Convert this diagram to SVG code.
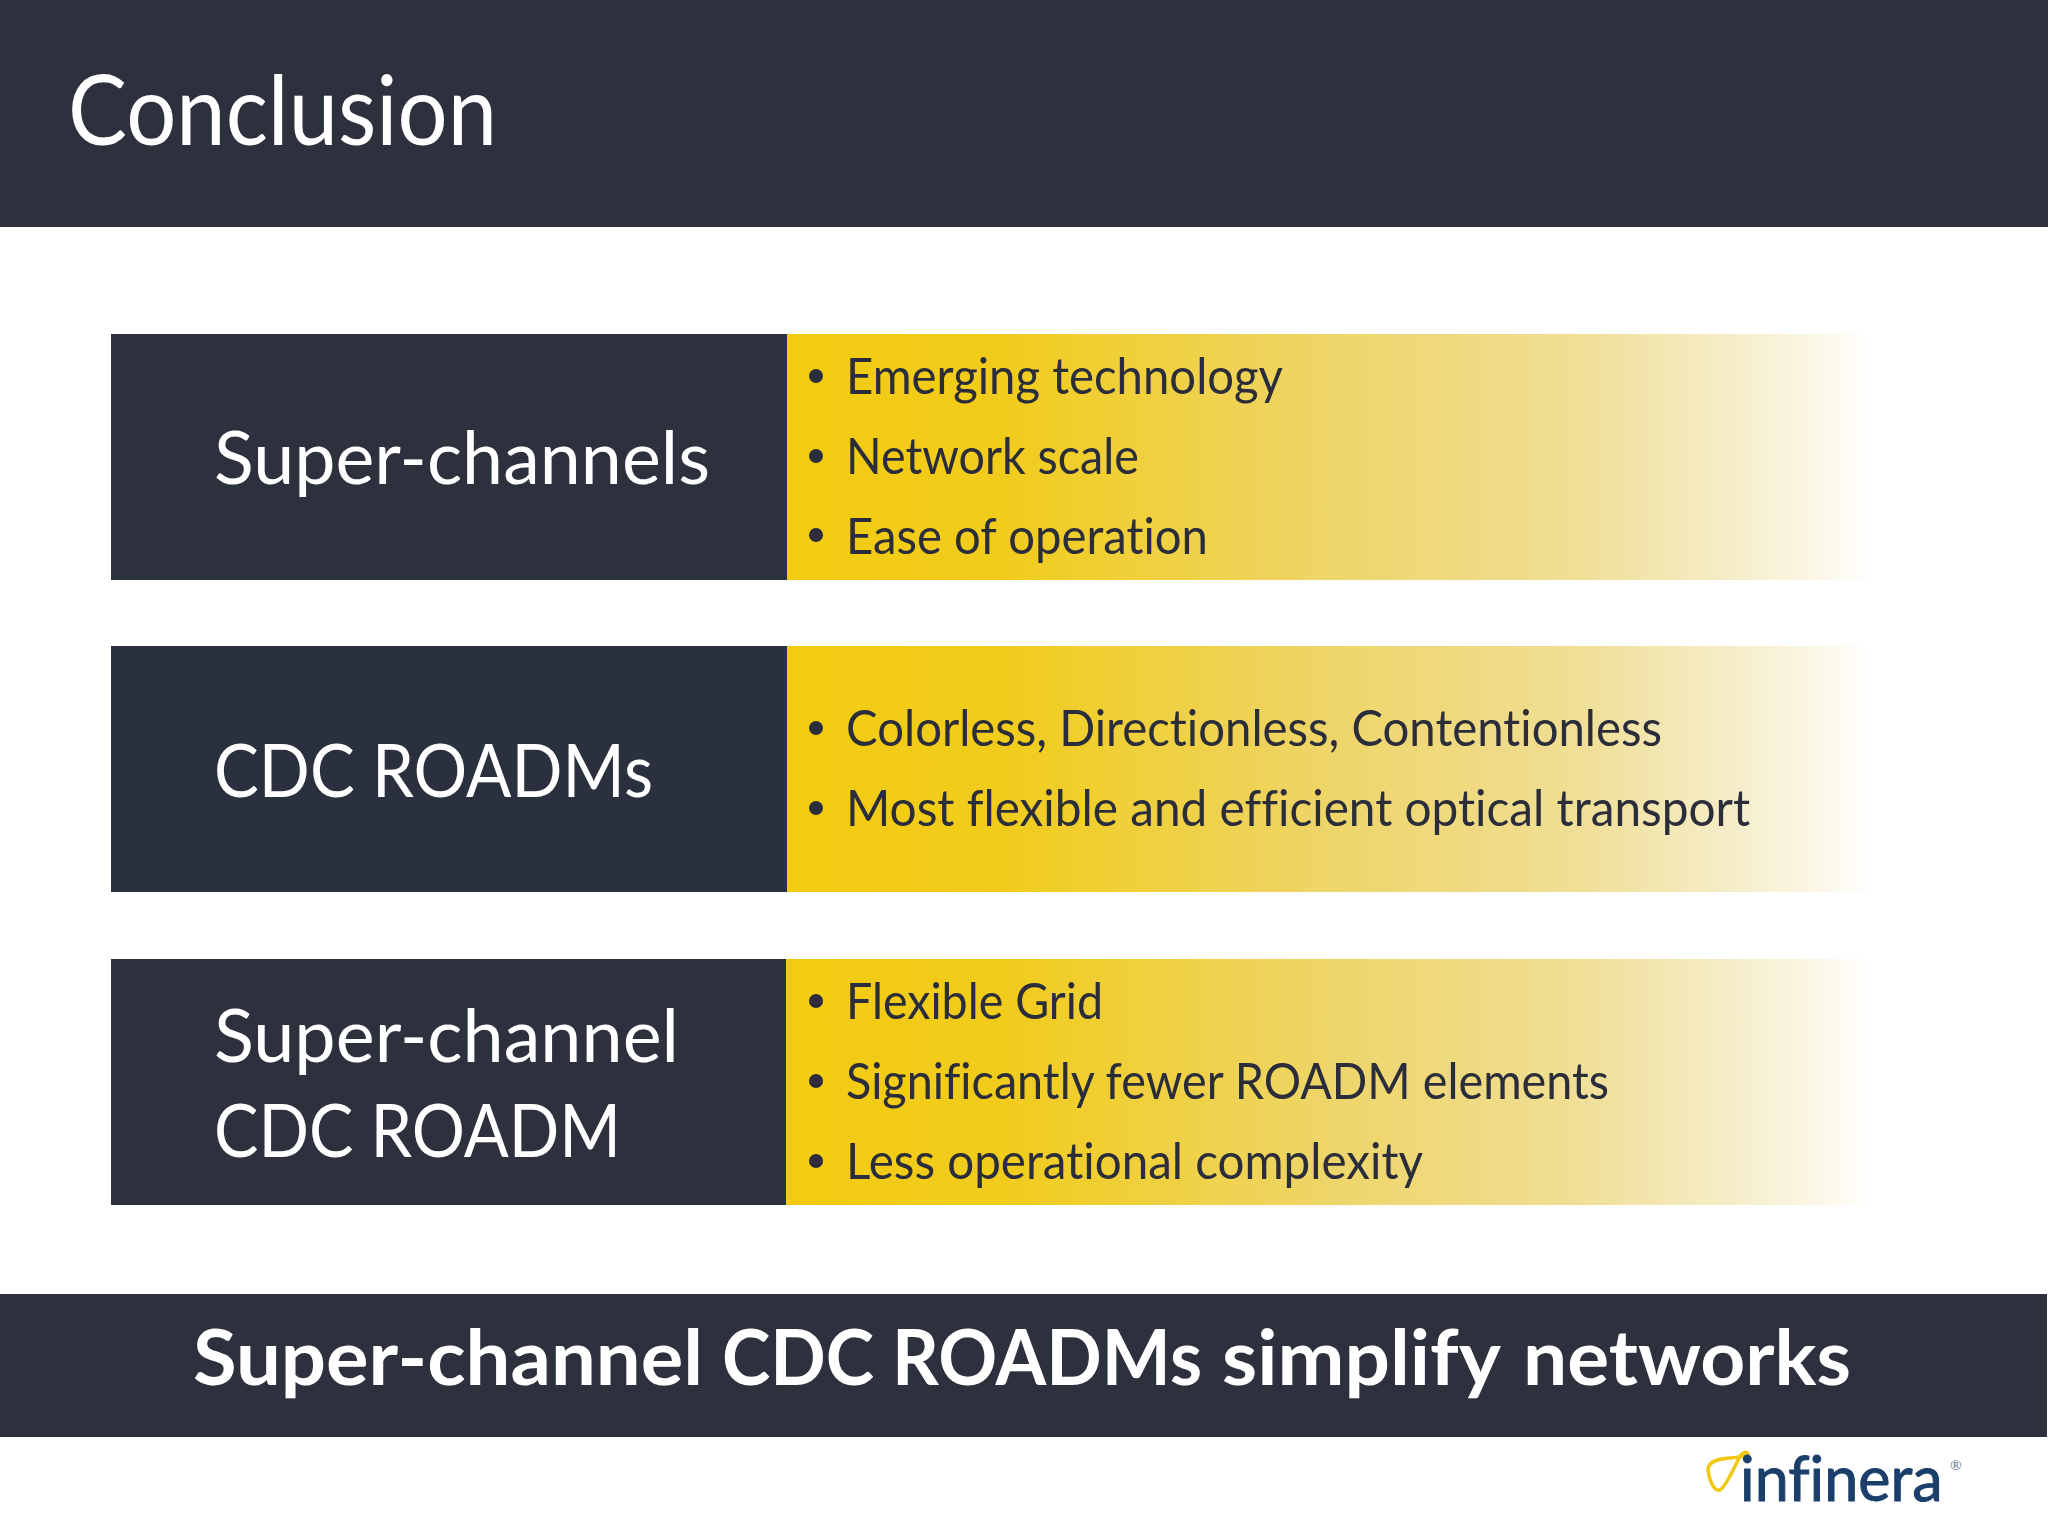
<svg xmlns="http://www.w3.org/2000/svg" width="2048" height="1536" viewBox="0 0 2048 1536">
<style>
text{font-family:"Lato","Carlito","Liberation Sans",sans-serif;font-variant-ligatures:none}
.dark{fill:#2d303d}
.head{fill:#fff;font-size:96px}
.lbl{fill:#fff;font-size:74px}
.item{fill:#2b2e3a;font-size:50px}
.dot{fill:#2b2e3a}
</style>
<defs>
<linearGradient id="fade" x1="0" x2="1" y1="0" y2="0">
<stop offset="0" stop-color="#f2cb11"/>
<stop offset="0.2" stop-color="#f1cc1c"/>
<stop offset="0.5" stop-color="#eed569"/>
<stop offset="0.72" stop-color="#f0de93"/>
<stop offset="0.87" stop-color="#f5edc8"/>
<stop offset="0.97" stop-color="#fdfaf0"/>
<stop offset="1" stop-color="#ffffff"/>
</linearGradient>
</defs>
<rect width="2048" height="1536" fill="#fff"/>
<g id="header">
<rect class="dark" width="2048" height="227"/>
<text class="head" x="68" y="145" textLength="429" lengthAdjust="spacingAndGlyphs">Conclusion</text>
</g>
<g id="row1">
<rect class="dark" x="111" y="334" width="677" height="246"/>
<rect x="787" y="334" width="1086" height="246" fill="url(#fade)"/>
<text class="lbl" x="214" y="484" textLength="496" lengthAdjust="spacingAndGlyphs">Super-channels</text>
<circle class="dot" cx="816" cy="376" r="7"/><circle class="dot" cx="816" cy="456" r="7"/><circle class="dot" cx="816" cy="535" r="7"/>
<text class="item" x="846" y="394" textLength="437" lengthAdjust="spacingAndGlyphs">Emerging technology</text>
<text class="item" x="846" y="474" textLength="293" lengthAdjust="spacingAndGlyphs">Network scale</text>
<text class="item" x="846" y="554" textLength="362" lengthAdjust="spacingAndGlyphs">Ease of operation</text>
</g>
<g id="row2">
<rect fill="#2a303d" x="111" y="646" width="677" height="246"/>
<rect x="787" y="646" width="1086" height="246" fill="url(#fade)"/>
<text class="lbl" x="214" y="797" textLength="439" lengthAdjust="spacingAndGlyphs">CDC ROADMs</text>
<circle class="dot" cx="816" cy="728" r="7"/><circle class="dot" cx="816" cy="808" r="7"/>
<text class="item" x="846" y="746" textLength="816" lengthAdjust="spacingAndGlyphs">Colorless, Directionless, Contentionless</text>
<text class="item" x="846" y="826" textLength="904" lengthAdjust="spacingAndGlyphs">Most flexible and efficient optical transport</text>
</g>
<g id="row3">
<rect class="dark" x="111" y="959" width="676" height="246"/>
<rect x="786" y="959" width="1087" height="246" fill="url(#fade)"/>
<text class="lbl" x="214" y="1062" textLength="465" lengthAdjust="spacingAndGlyphs">Super-channel</text>
<text class="lbl" x="214" y="1157" textLength="407" lengthAdjust="spacingAndGlyphs">CDC ROADM</text>
<circle class="dot" cx="816" cy="1001" r="7"/><circle class="dot" cx="816" cy="1081" r="7"/><circle class="dot" cx="816" cy="1161" r="7"/>
<text class="item" x="846" y="1019" textLength="257" lengthAdjust="spacingAndGlyphs">Flexible Grid</text>
<text class="item" x="846" y="1099" textLength="763" lengthAdjust="spacingAndGlyphs">Significantly fewer ROADM elements</text>
<text class="item" x="846" y="1179" textLength="577" lengthAdjust="spacingAndGlyphs">Less operational complexity</text>
</g>
<g id="banner">
<rect class="dark" x="0" y="1294" width="2047" height="143"/>
<text y="1385" fill="#fff" font-size="76" font-weight="700"><tspan x="193" textLength="510" lengthAdjust="spacingAndGlyphs">Super-channel</tspan> <tspan x="722" textLength="480" lengthAdjust="spacingAndGlyphs">CDC ROADMs</tspan> <tspan x="1222" textLength="277" lengthAdjust="spacingAndGlyphs">simplify</tspan> <tspan x="1523" textLength="328" lengthAdjust="spacingAndGlyphs">networks</tspan></text>
</g>
<g id="logo">
<path d="M1708 1470C1708 1462 1716 1459 1730 1458C1742 1457 1748 1456 1748 1454C1747 1451 1742 1452 1739 1458C1733 1470 1726 1486 1720 1490C1714 1492 1709 1480 1708 1470Z" fill="none" stroke="#f2c811" stroke-width="3.5"/>
<text x="1740" y="1501" fill="#1b3f6b" stroke="#1b3f6b" stroke-width="1" font-size="61">infinera</text>
<text x="1950" y="1470" fill="#6b7f99" font-size="14">®</text>
</g>
</svg>
